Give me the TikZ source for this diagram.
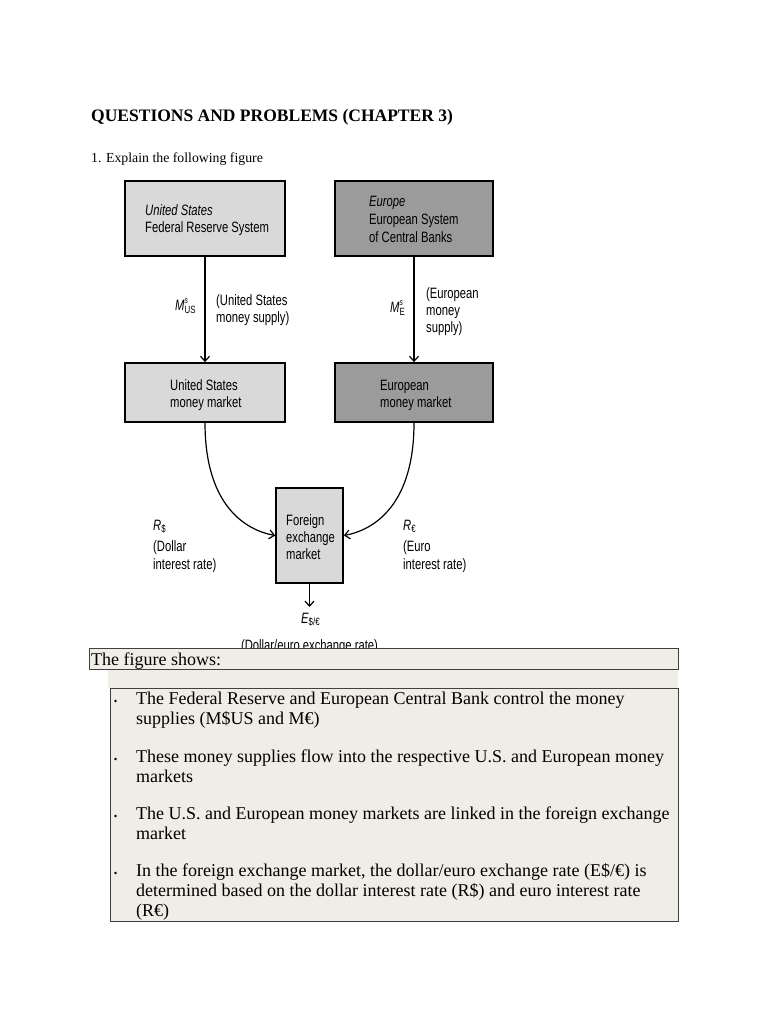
\documentclass[tikz,border=0pt]{standalone}
\usepackage{fontspec}
\setmainfont{Liberation Serif}
\newfontfamily\dg[FakeStretch=0.75]{Liberation Sans}
\usetikzlibrary{arrows.meta}
\definecolor{boxlight}{HTML}{D9D9D9}
\definecolor{boxdark}{HTML}{9B9B9B}
\definecolor{beige}{HTML}{F0EDE6}
\definecolor{edge}{HTML}{404040}
\newcommand\msub[3]{$\mbox{\itshape #1}^{\mbox{\fontsize{9}{9}\selectfont\itshape #2}}_{\mbox{\fontsize{10.5}{10.5}\selectfont #3}}$}
\newcommand\rsub[2]{$\mbox{\itshape #1}_{\mbox{\fontsize{10.5}{10.5}\selectfont #2}}$}
\begin{document}
\begin{tikzpicture}[x=1pt,y=-1pt,
  box/.style={draw=black,line width=1.7pt,inner sep=0pt},
  lbox/.style={box,fill=boxlight},
  dbox/.style={box,fill=boxdark},
  dtxt/.style={font=\dg\fontsize{15}{17}\selectfont,anchor=base west,inner sep=0pt},
  ctxt/.style={font=\dg\fontsize{15}{17}\selectfont,anchor=base,inner sep=0pt},
  flow/.style={-{Straight Barb[length=5pt,width=9pt]},line width=1.2pt},
  body/.style={font=\fontsize{18}{20}\selectfont,anchor=base west,inner sep=0pt},
  tbox/.style={draw=edge,line width=1pt,fill=beige,inner sep=0pt},
  dot/.style={circle,fill=black,inner sep=0pt,minimum size=2.6pt}]
\path[use as bounding box,fill=white] (0,0) rectangle (768,1024);

% heading
\node[anchor=base west,inner sep=0pt,font=\bfseries\fontsize{17.5}{20}\selectfont] (title) at (91,122) {QUESTIONS AND PROBLEMS (CHAPTER 3)};
\node[anchor=base west,inner sep=0pt,font=\fontsize{13.8}{16}\selectfont] (q1) at (91,163) {1. Explain the following figure};

% boxes
\node[lbox,minimum width=160pt,minimum height=75pt] (fed) at (205,218.5) {};
\node[dbox,minimum width=158pt,minimum height=75pt] (ecb) at (414,218.5) {};
\node[lbox,minimum width=160pt,minimum height=59pt] (usmm) at (205,392.5) {};
\node[dbox,minimum width=158pt,minimum height=59pt] (eumm) at (414,392.5) {};
\node[lbox,minimum width=67pt,minimum height=95pt] (fx) at (309.5,535.5) {};

% box texts
\node[dtxt] (fed1) at (145,215) {\itshape United States};
\node[dtxt] (fed2) at (145,233) {Federal Reserve System};
\node[dtxt] (ecb1) at (369,207) {\itshape Europe};
\node[dtxt] (ecb2) at (369,225) {European System};
\node[dtxt] (ecb3) at (369,243) {of Central Banks};
\node[dtxt] (us1) at (170,390) {United States};
\node[dtxt] (us2) at (170,407) {money market};
\node[dtxt] (eu1) at (380,390) {European};
\node[dtxt] (eu2) at (380,407) {money market};
\node[dtxt] (fx1) at (286,525) {Foreign};
\node[dtxt] (fx2) at (286,542) {exchange};
\node[dtxt] (fx3) at (286,559) {market};

% connectors
\draw[flow] (fed.south) -- (usmm.north);
\draw[flow] (ecb.south) -- (eumm.north);
\draw[flow] (usmm.south) .. controls (205,505) and (245,530) .. (fx.west);
\draw[flow] (eumm.south) .. controls (414,505) and (374,530) .. (fx.east);
\coordinate (eout) at (309.5,607);
\draw[flow] (fx.south) -- (eout);

% labels
\node[dtxt] (mus) at (175,310) {\msub{M}{s}{US}};
\node[dtxt] (mus1) at (216,305) {(United States};
\node[dtxt] (mus2) at (216,322) {money supply)};
\node[dtxt] (me) at (390,312) {\msub{M}{s}{E}};
\node[dtxt] (me1) at (426,298) {(European};
\node[dtxt] (me2) at (426,315) {money};
\node[dtxt] (me3) at (426,332) {supply)};
\node[dtxt] (rd) at (153,530) {\rsub{R}{\$}};
\node[dtxt] (rd1) at (153,551) {(Dollar};
\node[dtxt] (rd2) at (153,569) {interest rate)};
\node[dtxt] (re) at (403,530) {\rsub{R}{€}};
\node[dtxt] (re1) at (403,551) {(Euro};
\node[dtxt] (re2) at (403,569) {interest rate)};
\node[dtxt] (ee) at (301,623) {\rsub{E}{\$/€}};
\node[ctxt] (ee1) at (309.5,650) {(Dollar/euro exchange rate)};

% answer
\node[tbox,minimum width=589pt,minimum height=21pt] (shows) at (383.5,658.5) {};
\node[body] (showst) at (91,665) {The figure shows:};
\fill[beige] (108,669.5) rectangle (678,688);
\node[tbox,minimum width=568pt,minimum height=233pt] (list) at (394,804.5) {};

\node[dot] (b1) at (115.5,701) {};
\node[body] (l1) at (136,704) {The Federal Reserve and European Central Bank control the money};
\node[body] (l2) at (136,724) {supplies (M\$US and M€)};
\node[dot] (b2) at (115.5,759) {};
\node[body] (l3) at (136,762) {These money supplies flow into the respective U.S. and European money};
\node[body] (l4) at (136,782) {markets};
\node[dot] (b3) at (115.5,816) {};
\node[body] (l5) at (136,819) {The U.S. and European money markets are linked in the foreign exchange};
\node[body] (l6) at (136,839) {market};
\node[dot] (b4) at (115.5,873) {};
\node[body] (l7) at (136,876) {In the foreign exchange market, the dollar/euro exchange rate (E\$/€) is};
\node[body] (l8) at (136,896) {determined based on the dollar interest rate (R\$) and euro interest rate};
\node[body] (l9) at (136,916) {(R€)};
\end{tikzpicture}
\end{document}
